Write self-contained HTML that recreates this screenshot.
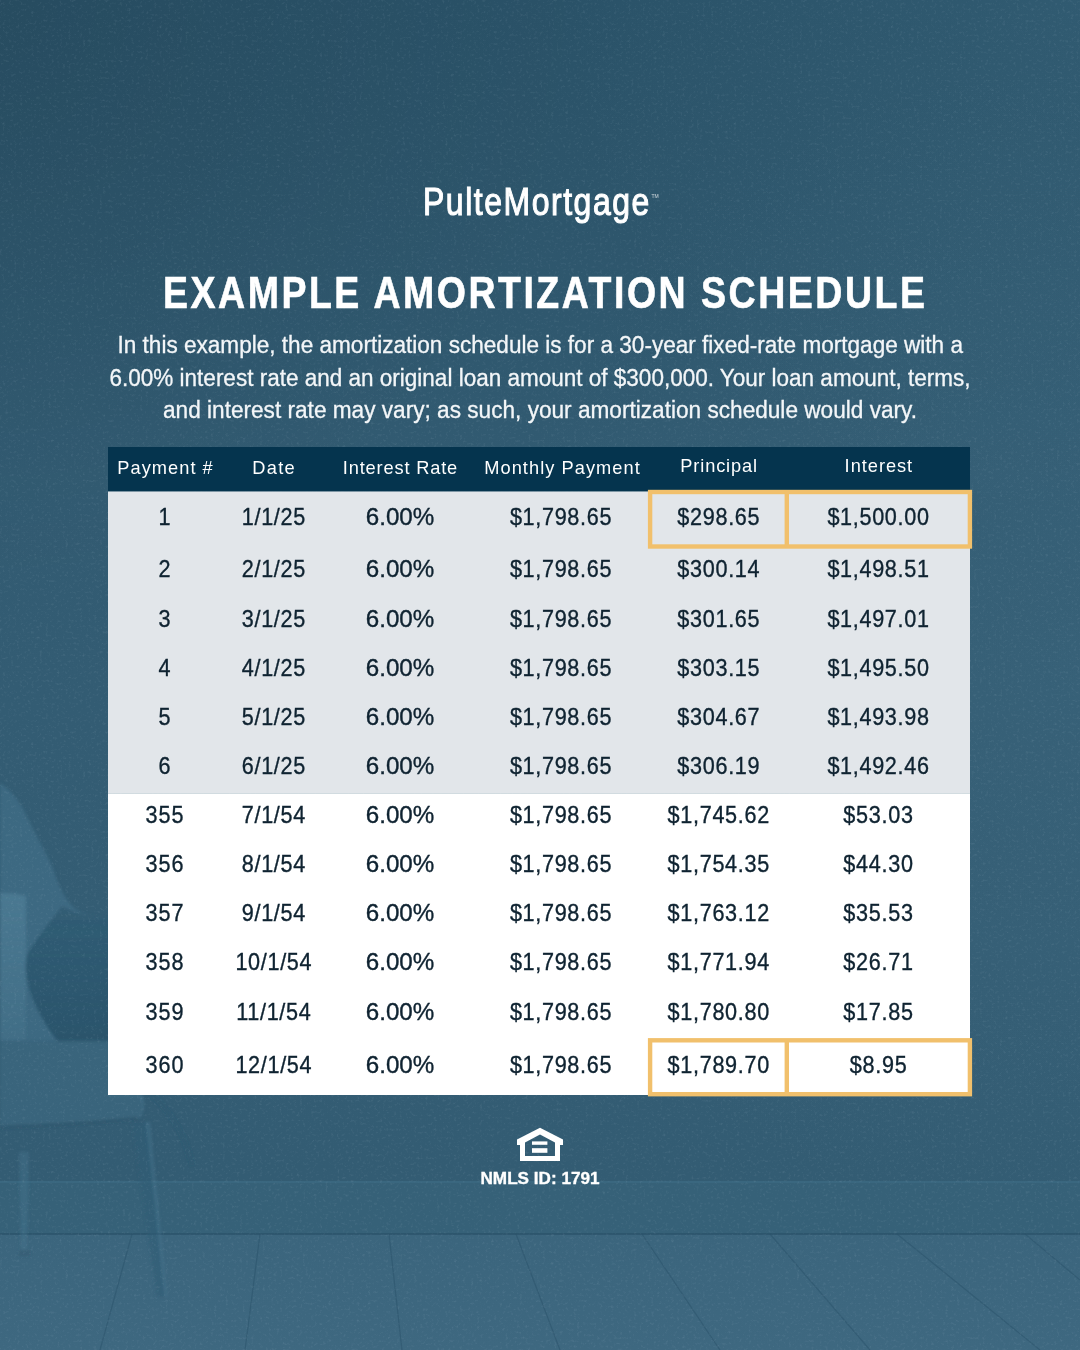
<!DOCTYPE html>
<html><head><meta charset="utf-8">
<style>
html,body{margin:0;padding:0;}
body{width:1080px;height:1350px;overflow:hidden;position:relative;background:#2d5870;font-family:"Liberation Sans",sans-serif;}
svg{position:absolute;left:0;top:0;display:block;}
svg text{font-family:"Liberation Sans",sans-serif;}
</style></head><body>
<svg width="1080" height="1350" viewBox="0 0 1080 1350">
  <defs>
    <linearGradient id="wallv" x1="0" y1="0" x2="0" y2="1182" gradientUnits="userSpaceOnUse">
      <stop offset="0" stop-color="#2a5268"/>
      <stop offset="0.12" stop-color="#2c546a"/>
      <stop offset="0.40" stop-color="#325b72"/>
      <stop offset="0.80" stop-color="#345d74"/>
      <stop offset="1" stop-color="#335c73"/>
    </linearGradient>
    <radialGradient id="tl" cx="0" cy="0" r="600" gradientUnits="userSpaceOnUse">
      <stop offset="0" stop-color="#000" stop-opacity="0.08"/>
      <stop offset="1" stop-color="#000" stop-opacity="0"/>
    </radialGradient>
    <radialGradient id="tr" cx="1080" cy="0" r="520" gradientUnits="userSpaceOnUse">
      <stop offset="0" stop-color="#6aa6c0" stop-opacity="0.10"/>
      <stop offset="1" stop-color="#6aa6c0" stop-opacity="0"/>
    </radialGradient>
    <radialGradient id="rmid" cx="1080" cy="650" r="600" gradientUnits="userSpaceOnUse">
      <stop offset="0" stop-color="#6a9ab0" stop-opacity="0.08"/>
      <stop offset="1" stop-color="#6a9ab0" stop-opacity="0"/>
    </radialGradient>
    <linearGradient id="floor" x1="0" y1="1234" x2="0" y2="1350" gradientUnits="userSpaceOnUse">
      <stop offset="0" stop-color="#3b657d"/>
      <stop offset="1" stop-color="#3e6880"/>
    </linearGradient>
    <filter id="soft" x="-10%" y="-10%" width="120%" height="120%"><feGaussianBlur stdDeviation="1.6"/></filter>
    <linearGradient id="arm" x1="0" y1="892" x2="0" y2="1038" gradientUnits="userSpaceOnUse">
      <stop offset="0" stop-color="#5e8fa8" stop-opacity="0.40"/>
      <stop offset="1" stop-color="#5e8fa8" stop-opacity="0.12"/>
    </linearGradient>
    <linearGradient id="cush" x1="0" y1="906" x2="0" y2="1042" gradientUnits="userSpaceOnUse">
      <stop offset="0" stop-color="#1d455c" stop-opacity="0.35"/>
      <stop offset="1" stop-color="#1d455c" stop-opacity="0.60"/>
    </linearGradient>
    <filter id="noise" x="0" y="0" width="100%" height="100%">
      <feTurbulence type="fractalNoise" baseFrequency="0.35" numOctaves="3" seed="11"/>
      <feColorMatrix type="matrix" values="0 0 0 0 0.8  0 0 0 0 0.9  0 0 0 0 1  1.8 0 0 0 -0.98"/>
    </filter>
  </defs>
  <rect x="0" y="0" width="1080" height="1182" fill="url(#wallv)"/>
  <rect x="0" y="0" width="1080" height="1182" fill="url(#tl)"/>
  <rect x="0" y="0" width="1080" height="1182" fill="url(#tr)"/>
  <rect x="0" y="0" width="1080" height="1182" fill="url(#rmid)"/>
  <!-- chair -->
  <g filter="url(#soft)">
    <path d="M0 783 C10 790 20 800 26 815 C36 835 44 850 52 866 C58 885 64 898 74 908 C84 915 96 917 110 918 L110 1040 L0 1040 Z" fill="#4d7e98" opacity="0.38"/>
    <path d="M0 893 C10 893 20 894 26 896 L26 1040 L0 1040 Z" fill="url(#arm)"/>
    <path d="M62 906 C50 922 36 938 27 955 C22 975 30 1005 58 1042 L110 1042 L110 918 C92 917 76 913 62 906 Z" fill="url(#cush)"/>
    <path d="M0 1040 L110 1040 L110 1094 L143 1094 C144 1106 142 1114 136 1119 C100 1123 50 1125 0 1128 Z" fill="#4a7a94" opacity="0.28"/>
    <path d="M0 1127 C50 1125 100 1122 138 1118" stroke="#234a60" stroke-width="2.5" fill="none" opacity="0.45"/>
    <path d="M108 1094 L140 1094 C144 1100 145 1110 138 1118" stroke="#4e7f99" stroke-width="2" fill="none" opacity="0.35"/>
    <path d="M150 1094 C170 1110 185 1135 192 1165" stroke="#2a566e" stroke-width="5" fill="none" opacity="0.22"/>
  </g>
  <!-- baseboard -->
  <rect x="0" y="1181" width="1080" height="53" fill="#366178"/>
  <rect x="0" y="1181" width="1080" height="2" fill="#3e6b84" opacity="0.6"/>
  <!-- floor -->
  <rect x="0" y="1234" width="1080" height="116" fill="url(#floor)"/>
  <rect x="0" y="1233" width="1080" height="2" fill="#284f66" opacity="0.6"/>
  <g stroke="#2a526a" stroke-width="1.3" fill="none" opacity="0.5">
    <line x1="132" y1="1234" x2="100" y2="1350"/>
    <line x1="260" y1="1234" x2="245" y2="1350"/>
    <line x1="389" y1="1234" x2="402" y2="1350"/>
    <line x1="516" y1="1234" x2="560" y2="1350"/>
    <line x1="642" y1="1234" x2="720" y2="1350"/>
    <line x1="770" y1="1234" x2="870" y2="1350"/>
    <line x1="897" y1="1234" x2="1040" y2="1350"/>
    <line x1="1025" y1="1234" x2="1080" y2="1280"/>
  </g>
  <g filter="url(#soft)">
    <path d="M19 1152 L29 1152 L27 1250 L21 1250 Z" fill="#4b7891" opacity="0.35"/>
    <path d="M20 1250 L30 1250 L30 1256 L18 1256 Z" fill="#2a5068" opacity="0.3"/>
    <path d="M132 1122 L147 1122 L165 1297 L157 1297 Z" fill="#2e5c75" opacity="0.55"/>
    <path d="M146 1122 L150 1122 L167 1297 L165 1297 Z" fill="#5384a0" opacity="0.30"/>
  </g>
  <rect x="0" y="0" width="1080" height="1350" filter="url(#noise)" opacity="0.13"/>

  <!-- table -->
  <rect x="108" y="447" width="862" height="44.5" fill="#05344e"/>
  <rect x="108" y="491.5" width="862" height="301.8" fill="#e2e6ea"/>
  <rect x="108" y="793.3" width="862" height="301.7" fill="#ffffff"/>
  <g fill="none" stroke="#f1c06c" stroke-width="4.4">
    <rect x="650.1" y="492.0" width="319.8" height="54.5"/>
    <line x1="786.8" y1="492" x2="786.8" y2="546.5"/>
    <rect x="650.1" y="1040.3" width="319.8" height="53.9"/>
    <line x1="786.8" y1="1040" x2="786.8" y2="1094"/>
  </g>
  <g fill="#ffffff" text-anchor="middle" style="font-size:19px">
    <text transform="translate(165,473.6) scale(0.96,1)" x="0" y="0" textLength="99.5" lengthAdjust="spacing">Payment #</text><text transform="translate(273.5,473.6) scale(0.96,1)" x="0" y="0" textLength="44.3" lengthAdjust="spacing">Date</text><text transform="translate(400,473.6) scale(0.96,1)" x="0" y="0" textLength="119.3" lengthAdjust="spacing">Interest Rate</text><text transform="translate(562,473.6) scale(0.96,1)" x="0" y="0" textLength="162.0" lengthAdjust="spacing">Monthly Payment</text><text transform="translate(718.7,472.4) scale(0.96,1)" x="0" y="0" textLength="80.0" lengthAdjust="spacing">Principal</text><text transform="translate(878.4,472.4) scale(0.96,1)" x="0" y="0" textLength="70.4" lengthAdjust="spacing">Interest</text>
  </g>
  <g fill="#0f2331" stroke="#0f2331" stroke-width="0.35" text-anchor="middle" style="font-size:23px">
    <text transform="translate(164.5,524.6) scale(0.94,1)" x="0" y="0" textLength="13.5" lengthAdjust="spacing">1</text><text transform="translate(273.5,524.6) scale(0.94,1)" x="0" y="0" textLength="67.6" lengthAdjust="spacing">1/1/25</text><text x="400" y="524.6" textLength="68.5" lengthAdjust="spacingAndGlyphs">6.00%</text><text transform="translate(560.7,524.6) scale(0.94,1)" x="0" y="0" textLength="108.1" lengthAdjust="spacing">$1,798.65</text><text transform="translate(718.4,524.6) scale(0.94,1)" x="0" y="0" textLength="87.8" lengthAdjust="spacing">$298.65</text><text transform="translate(878.2,524.6) scale(0.94,1)" x="0" y="0" textLength="108.1" lengthAdjust="spacing">$1,500.00</text><text transform="translate(164.5,576.6) scale(0.94,1)" x="0" y="0" textLength="13.5" lengthAdjust="spacing">2</text><text transform="translate(273.5,576.6) scale(0.94,1)" x="0" y="0" textLength="67.6" lengthAdjust="spacing">2/1/25</text><text x="400" y="576.6" textLength="68.5" lengthAdjust="spacingAndGlyphs">6.00%</text><text transform="translate(560.7,576.6) scale(0.94,1)" x="0" y="0" textLength="108.1" lengthAdjust="spacing">$1,798.65</text><text transform="translate(718.4,576.6) scale(0.94,1)" x="0" y="0" textLength="87.8" lengthAdjust="spacing">$300.14</text><text transform="translate(878.2,576.6) scale(0.94,1)" x="0" y="0" textLength="108.1" lengthAdjust="spacing">$1,498.51</text><text transform="translate(164.5,626.5) scale(0.94,1)" x="0" y="0" textLength="13.5" lengthAdjust="spacing">3</text><text transform="translate(273.5,626.5) scale(0.94,1)" x="0" y="0" textLength="67.6" lengthAdjust="spacing">3/1/25</text><text x="400" y="626.5" textLength="68.5" lengthAdjust="spacingAndGlyphs">6.00%</text><text transform="translate(560.7,626.5) scale(0.94,1)" x="0" y="0" textLength="108.1" lengthAdjust="spacing">$1,798.65</text><text transform="translate(718.4,626.5) scale(0.94,1)" x="0" y="0" textLength="87.8" lengthAdjust="spacing">$301.65</text><text transform="translate(878.2,626.5) scale(0.94,1)" x="0" y="0" textLength="108.1" lengthAdjust="spacing">$1,497.01</text><text transform="translate(164.5,676.1) scale(0.94,1)" x="0" y="0" textLength="13.5" lengthAdjust="spacing">4</text><text transform="translate(273.5,676.1) scale(0.94,1)" x="0" y="0" textLength="67.6" lengthAdjust="spacing">4/1/25</text><text x="400" y="676.1" textLength="68.5" lengthAdjust="spacingAndGlyphs">6.00%</text><text transform="translate(560.7,676.1) scale(0.94,1)" x="0" y="0" textLength="108.1" lengthAdjust="spacing">$1,798.65</text><text transform="translate(718.4,676.1) scale(0.94,1)" x="0" y="0" textLength="87.8" lengthAdjust="spacing">$303.15</text><text transform="translate(878.2,676.1) scale(0.94,1)" x="0" y="0" textLength="108.1" lengthAdjust="spacing">$1,495.50</text><text transform="translate(164.5,725.1) scale(0.94,1)" x="0" y="0" textLength="13.5" lengthAdjust="spacing">5</text><text transform="translate(273.5,725.1) scale(0.94,1)" x="0" y="0" textLength="67.6" lengthAdjust="spacing">5/1/25</text><text x="400" y="725.1" textLength="68.5" lengthAdjust="spacingAndGlyphs">6.00%</text><text transform="translate(560.7,725.1) scale(0.94,1)" x="0" y="0" textLength="108.1" lengthAdjust="spacing">$1,798.65</text><text transform="translate(718.4,725.1) scale(0.94,1)" x="0" y="0" textLength="87.8" lengthAdjust="spacing">$304.67</text><text transform="translate(878.2,725.1) scale(0.94,1)" x="0" y="0" textLength="108.1" lengthAdjust="spacing">$1,493.98</text><text transform="translate(164.5,774.0) scale(0.94,1)" x="0" y="0" textLength="13.5" lengthAdjust="spacing">6</text><text transform="translate(273.5,774.0) scale(0.94,1)" x="0" y="0" textLength="67.6" lengthAdjust="spacing">6/1/25</text><text x="400" y="774.0" textLength="68.5" lengthAdjust="spacingAndGlyphs">6.00%</text><text transform="translate(560.7,774.0) scale(0.94,1)" x="0" y="0" textLength="108.1" lengthAdjust="spacing">$1,798.65</text><text transform="translate(718.4,774.0) scale(0.94,1)" x="0" y="0" textLength="87.8" lengthAdjust="spacing">$306.19</text><text transform="translate(878.2,774.0) scale(0.94,1)" x="0" y="0" textLength="108.1" lengthAdjust="spacing">$1,492.46</text><text transform="translate(164.5,822.8) scale(0.94,1)" x="0" y="0" textLength="40.5" lengthAdjust="spacing">355</text><text transform="translate(273.5,822.8) scale(0.94,1)" x="0" y="0" textLength="67.6" lengthAdjust="spacing">7/1/54</text><text x="400" y="822.8" textLength="68.5" lengthAdjust="spacingAndGlyphs">6.00%</text><text transform="translate(560.7,822.8) scale(0.94,1)" x="0" y="0" textLength="108.1" lengthAdjust="spacing">$1,798.65</text><text transform="translate(718.4,822.8) scale(0.94,1)" x="0" y="0" textLength="108.1" lengthAdjust="spacing">$1,745.62</text><text transform="translate(878.2,822.8) scale(0.94,1)" x="0" y="0" textLength="74.3" lengthAdjust="spacing">$53.03</text><text transform="translate(164.5,871.6) scale(0.94,1)" x="0" y="0" textLength="40.5" lengthAdjust="spacing">356</text><text transform="translate(273.5,871.6) scale(0.94,1)" x="0" y="0" textLength="67.6" lengthAdjust="spacing">8/1/54</text><text x="400" y="871.6" textLength="68.5" lengthAdjust="spacingAndGlyphs">6.00%</text><text transform="translate(560.7,871.6) scale(0.94,1)" x="0" y="0" textLength="108.1" lengthAdjust="spacing">$1,798.65</text><text transform="translate(718.4,871.6) scale(0.94,1)" x="0" y="0" textLength="108.1" lengthAdjust="spacing">$1,754.35</text><text transform="translate(878.2,871.6) scale(0.94,1)" x="0" y="0" textLength="74.3" lengthAdjust="spacing">$44.30</text><text transform="translate(164.5,920.6) scale(0.94,1)" x="0" y="0" textLength="40.5" lengthAdjust="spacing">357</text><text transform="translate(273.5,920.6) scale(0.94,1)" x="0" y="0" textLength="67.6" lengthAdjust="spacing">9/1/54</text><text x="400" y="920.6" textLength="68.5" lengthAdjust="spacingAndGlyphs">6.00%</text><text transform="translate(560.7,920.6) scale(0.94,1)" x="0" y="0" textLength="108.1" lengthAdjust="spacing">$1,798.65</text><text transform="translate(718.4,920.6) scale(0.94,1)" x="0" y="0" textLength="108.1" lengthAdjust="spacing">$1,763.12</text><text transform="translate(878.2,920.6) scale(0.94,1)" x="0" y="0" textLength="74.3" lengthAdjust="spacing">$35.53</text><text transform="translate(164.5,969.6) scale(0.94,1)" x="0" y="0" textLength="40.5" lengthAdjust="spacing">358</text><text transform="translate(273.5,969.6) scale(0.94,1)" x="0" y="0" textLength="81.1" lengthAdjust="spacing">10/1/54</text><text x="400" y="969.6" textLength="68.5" lengthAdjust="spacingAndGlyphs">6.00%</text><text transform="translate(560.7,969.6) scale(0.94,1)" x="0" y="0" textLength="108.1" lengthAdjust="spacing">$1,798.65</text><text transform="translate(718.4,969.6) scale(0.94,1)" x="0" y="0" textLength="108.1" lengthAdjust="spacing">$1,771.94</text><text transform="translate(878.2,969.6) scale(0.94,1)" x="0" y="0" textLength="74.3" lengthAdjust="spacing">$26.71</text><text transform="translate(164.5,1020.0) scale(0.94,1)" x="0" y="0" textLength="40.5" lengthAdjust="spacing">359</text><text transform="translate(273.5,1020.0) scale(0.94,1)" x="0" y="0" textLength="79.3" lengthAdjust="spacing">11/1/54</text><text x="400" y="1020.0" textLength="68.5" lengthAdjust="spacingAndGlyphs">6.00%</text><text transform="translate(560.7,1020.0) scale(0.94,1)" x="0" y="0" textLength="108.1" lengthAdjust="spacing">$1,798.65</text><text transform="translate(718.4,1020.0) scale(0.94,1)" x="0" y="0" textLength="108.1" lengthAdjust="spacing">$1,780.80</text><text transform="translate(878.2,1020.0) scale(0.94,1)" x="0" y="0" textLength="74.3" lengthAdjust="spacing">$17.85</text><text transform="translate(164.5,1073.0) scale(0.94,1)" x="0" y="0" textLength="40.5" lengthAdjust="spacing">360</text><text transform="translate(273.5,1073.0) scale(0.94,1)" x="0" y="0" textLength="81.1" lengthAdjust="spacing">12/1/54</text><text x="400" y="1073.0" textLength="68.5" lengthAdjust="spacingAndGlyphs">6.00%</text><text transform="translate(560.7,1073.0) scale(0.94,1)" x="0" y="0" textLength="108.1" lengthAdjust="spacing">$1,798.65</text><text transform="translate(718.4,1073.0) scale(0.94,1)" x="0" y="0" textLength="108.1" lengthAdjust="spacing">$1,789.70</text><text transform="translate(878.2,1073.0) scale(0.94,1)" x="0" y="0" textLength="60.8" lengthAdjust="spacing">$8.95</text>
  </g>
  <!-- logo -->
  <text transform="translate(423,214.5) scale(0.82,1)" x="0" y="0" fill="#ffffff" stroke="#ffffff" stroke-width="1.1" style="font-size:39px" textLength="276" lengthAdjust="spacing">PulteMortgage</text>
  <text x="651.5" y="197.5" fill="#ffffff" style="font-size:5px" opacity="0.75">TM</text>
  <!-- title -->
  <text transform="translate(163,307.8) scale(0.86,1)" x="0" y="0" fill="#ffffff" stroke="#ffffff" stroke-width="0.6" style="font-size:43.6px;font-weight:bold" textLength="886" lengthAdjust="spacing">EXAMPLE AMORTIZATION SCHEDULE</text>
  <!-- paragraph -->
  <g fill="#f3f6f8" stroke="#f3f6f8" stroke-width="0.3" style="font-size:23px">
    <text x="117.5" y="352.8" textLength="845.5" lengthAdjust="spacingAndGlyphs">In this example, the amortization schedule is for a 30-year fixed-rate mortgage with a</text>
    <text x="109.5" y="385.5" textLength="861" lengthAdjust="spacingAndGlyphs">6.00% interest rate and an original loan amount of $300,000. Your loan amount, terms,</text>
    <text x="163" y="418" textLength="754" lengthAdjust="spacingAndGlyphs">and interest rate may vary; as such, your amortization schedule would vary.</text>
  </g>
  <!-- equal housing -->
  <g fill="#ffffff">
    <path fill-rule="evenodd" d="M540 1127.8 L563 1139.5 L563 1145 L560 1145 L560 1161 L520 1161 L520 1145 L517 1145 L517 1139.5 Z M540 1134.4 L525 1142.5 L525 1156 L555 1156 L555 1142.5 Z"/>
    <rect x="532" y="1141.4" width="15.4" height="3.4"/>
    <rect x="532" y="1148.2" width="15.4" height="4.6"/>
  </g>
  <text x="480.5" y="1184" fill="#ffffff" stroke="#ffffff" stroke-width="0.35" style="font-size:17.4px;font-weight:bold" textLength="119" lengthAdjust="spacingAndGlyphs">NMLS ID: 1791</text>
</svg>
</body></html>
